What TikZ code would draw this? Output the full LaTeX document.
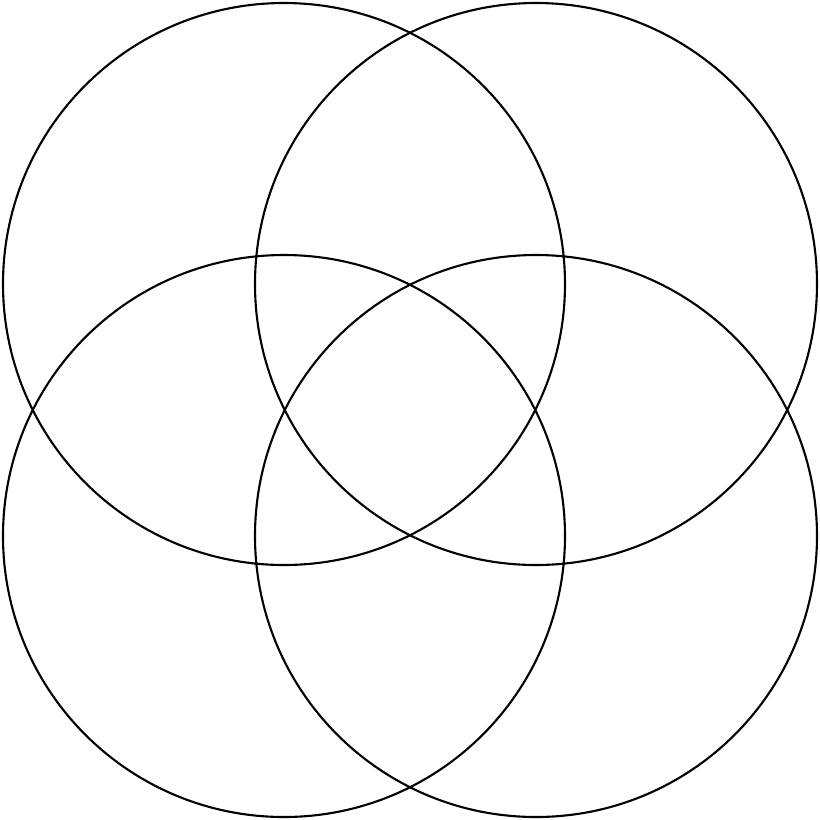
\documentclass[tikz,border=0pt]{standalone}
\begin{document}
\begin{tikzpicture}[x=0.01cm,y=-0.01cm,ring/.style={draw=black,line width=0.6pt}]
\useasboundingbox[fill=white] (0,0) rectangle (820,820);
\draw[ring] (284,284) circle[radius=281];
\draw[ring] (536,284) circle[radius=281];
\draw[ring] (284,536) circle[radius=281];
\draw[ring] (536,536) circle[radius=281];
\end{tikzpicture}
\end{document}
